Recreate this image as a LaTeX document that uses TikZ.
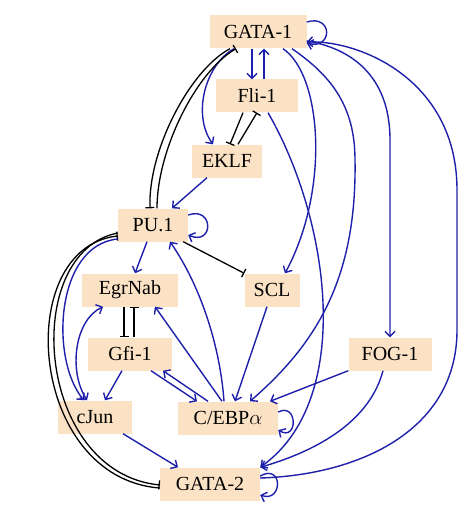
\documentclass[tikz,border=0pt]{standalone}
\usepackage{fontspec}
\setmainfont{Liberation Serif}
\usetikzlibrary{arrows.meta}
\definecolor{peach}{RGB}{251,226,197}
\definecolor{arrblue}{RGB}{30,32,170}
\begin{document}
\begin{tikzpicture}[x=1pt,y=-1pt,
  gene/.style={fill=peach, minimum height=33pt, inner sep=0pt, font=\fontsize{20}{23}\selectfont},
  act/.style={draw=arrblue, line width=1.4pt, -{Straight Barb[length=5pt,width=10pt]}},
  biact/.style={draw=arrblue, line width=1.4pt, {Straight Barb[length=5pt,width=10pt]}-{Straight Barb[length=5pt,width=10pt]}},
  inh/.style={draw=black, line width=1.3pt, -{Bar[width=9pt]}}]
\useasboundingbox (0,0) rectangle (474,516);
\node[gene, minimum width=97pt] (G1) at (258,32) {GATA-1};
\node[gene, minimum width=82pt] (Fli) at (257,96) {Fli-1};
\node[gene, minimum width=70pt] (EKLF) at (227,161) {EKLF};
\node[gene, minimum width=70pt] (PU1) at (153,225) {PU.1};
\node[gene, minimum width=96pt] (Egr) at (130,290) {EgrNab};
\node[gene, minimum width=55pt] (SCL) at (272,290) {SCL};
\node[gene, minimum width=84pt] (Gfi) at (130,354) {Gfi-1};
\node[gene, minimum width=74pt] (cJun) at (95,417) {cJun};
\node[gene, minimum width=100pt] (CEBP) at (228,418) {C/EBP$\alpha$};
\node[gene, minimum width=100pt] (G2) at (210,484) {GATA-2};
\node[gene, minimum width=83pt] (FOG) at (390,354) {FOG-1};

% GATA-1
\draw[act] ([yshift=10pt]G1.east) .. controls (333,14) and (333,50) .. ([yshift=-11pt]G1.east);
\draw[act] ([xshift=-6pt]G1.south) -- ([xshift=-5pt]Fli.north);
\draw[act] ([xshift=7pt]Fli.north) -- ([xshift=6pt]G1.south);
\draw[inh] ([xshift=-14pt]Fli.south) -- ([xshift=3pt]EKLF.north);
\draw[inh] ([xshift=11pt]EKLF.north) -- (Fli.south);
\draw[act] ([xshift=-24pt]G1.south) .. controls (205,65) and (192,115) .. ([xshift=-14pt]EKLF.north);
\draw[act] ([xshift=-20pt]EKLF.south) -- ([xshift=19pt]PU1.north);
\draw[inh] ([xshift=-28pt]G1.south) .. controls (190,70) and (148,150) .. ([xshift=-3pt]PU1.north);
\draw[inh] ([xshift=4pt]PU1.north) .. controls (157,150) and (196,72) .. ([xshift=-22pt]G1.south);
\draw[act] ([xshift=25pt]G1.south) .. controls (322,75) and (330,190) .. ([xshift=13pt]SCL.north);
\draw[act] ([xshift=34pt]G1.south) .. controls (330,75) and (355,105) .. (355,160) .. controls (357,280) and (315,345) .. ([xshift=22pt]CEBP.north);
\draw[act] ([yshift=-9pt]G1.east) .. controls (350,48) and (390,75) .. (390,140) -- (FOG.north);
\draw[act] ([yshift=6pt]G2.east) .. controls (360,475) and (457,430) .. (457,330) -- (457,190) .. controls (457,80) and (360,40) .. ([yshift=-10pt]G1.east);

% PU.1
\draw[act] ([yshift=10pt]PU1.east) .. controls (214,206) and (214,246) .. ([yshift=-10pt]PU1.east);
\draw[act] ([xshift=-6pt]PU1.south) -- ([xshift=5pt]Egr.north);
\draw[inh] ([xshift=-5pt]PU1.south east) -- (SCL.north west);
\draw[inh] ([yshift=-8pt]PU1.west) .. controls (20,252) and (35,472) .. ([yshift=-1pt]G2.west);
\draw[inh] ([yshift=-4pt]G2.west) .. controls (28,478) and (12,248) .. ([yshift=-11pt]PU1.west);
\draw[act] ([yshift=-14pt]PU1.west) .. controls (55,245) and (50,360) .. ([xshift=-11pt]cJun.north);

% EgrNab, Gfi-1, cJun
\draw[biact] ([xshift=-27pt]Egr.south) .. controls (75,320) and (68,370) .. ([xshift=-8pt]cJun.north);
\draw[inh] ([xshift=-6pt]Egr.south) -- ([xshift=-6pt]Gfi.north);
\draw[inh] ([xshift=4pt]Gfi.north) -- ([xshift=4pt]Egr.south);
\draw[act] ([xshift=-8pt]Gfi.south) -- ([xshift=10pt]cJun.north);
\draw[act] ([xshift=21pt]Gfi.south) -- ([xshift=-31pt]CEBP.north);
\draw[act] ([xshift=-20pt]CEBP.north) -- ([xshift=33pt]Gfi.south);
\draw[act] ([xshift=28pt]cJun.south) -- ([xshift=-32pt]G2.north);

% C/EBPa
\draw[act] ([xshift=-6pt]CEBP.north) -- ([xshift=25pt]Egr.south);
\draw[act] ([xshift=-4pt]CEBP.north) .. controls (220,345) and (200,285) .. ([xshift=17pt]PU1.south);
\draw[act] ([xshift=-5pt]SCL.south) -- ([xshift=7pt]CEBP.north);
\draw[act] (FOG.south west) -- ([xshift=42pt]CEBP.north);
\draw[act] ([yshift=6pt]CEBP.east) .. controls (298,402) and (298,442) .. ([yshift=-12pt]CEBP.east);

% GATA-2
\draw[act] ([xshift=11pt]Fli.south) .. controls (330,220) and (355,400) .. (G2.north east);
\draw[act] ([xshift=-7pt]FOG.south) .. controls (370,420) and (320,450) .. (G2.north east);
\draw[act] ([yshift=8pt]G2.east) .. controls (283,463) and (283,503) .. ([yshift=-11pt]G2.east);
\end{tikzpicture}
\end{document}
